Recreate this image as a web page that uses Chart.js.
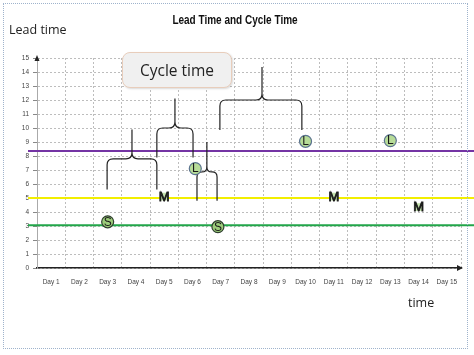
<!DOCTYPE html>
<html>
<head>
<meta charset="utf-8">
<script src="https://cdn.jsdelivr.net/npm/chart.js@4"></script>
<style>
  html, body { margin:0; padding:0; background:#fff; }
  #wrap { position:relative; width:474px; height:355px; overflow:hidden; }
  #c { position:absolute; left:0; top:0; }
  .frame { position:absolute; left:3px; top:3px; width:463px; height:344px; border:1px dotted #9fb3cc; pointer-events:none; }
  .txt { position:absolute; font-family:"Open Sans", "Liberation Sans", sans-serif; color:#222; white-space:nowrap; }
  #title { left:235px; top:13px; transform:translateX(-50%) scaleX(0.8); transform-origin:center; font-family:"Liberation Sans",sans-serif; font-weight:bold; font-size:12.5px; color:#111; }
  #ylab { left:9px; top:21px; font-size:12.5px; }
  #xlab { left:408px; top:294px; font-size:12.5px; }
  #box { position:absolute; left:122px; top:52px; width:108px; height:34px; background:#f0f0f0; border:1.5px solid #e8cdbb; border-radius:8px; box-shadow:1px 1px 2px rgba(0,0,0,0.15); font-family:"Open Sans","Liberation Sans",sans-serif; font-size:15.5px; color:#222; text-align:center; line-height:34px; }
</style>
</head>
<body>
<div id="wrap">
  <canvas id="c" width="474" height="355"></canvas>
  <div class="frame"></div>
  <div id="title" class="txt">Lead Time and Cycle Time</div>
  <div id="ylab" class="txt">Lead time</div>
  <div id="xlab" class="txt">time</div>
  <div id="box">Cycle time</div>
</div>
<script>
// ---- data ----
const days = ['Day 1','Day 2','Day 3','Day 4','Day 5','Day 6','Day 7','Day 8','Day 9','Day 10','Day 11','Day 12','Day 13','Day 14','Day 15'];
const yTicks = [0,1,2,3,4,5,6,7,8,9,10,11,12,13,14,15];

// S, M, L markers: position in days (Day n = n) and lead time value
const sDays   = [3, 6.9];
const sValues = [3.3, 2.95];
const mDays   = [5, 11, 14];
const mValues = [5.1, 5.1, 4.35];
const lDays   = [6.1, 10, 13];
const lValues = [7.1, 9.05, 9.1];

// horizontal reference levels
const levelValues = [8.35, 5, 3.05];
const levelColors = ['#7434a4', '#f2ee00', '#22a64a'];

// cycle time braces: [leftDay, rightDay, tipDay, bottom, shoulder, top]
const braceLeft     = [2.98, 4.74, 6.16, 6.97];
const braceRight    = [4.74, 6.02, 6.87, 9.87];
const braceTip      = [3.86, 5.38, 6.51, 8.46];
const braceBottom   = [5.6, 7.9, 4.8, 9.86];
const braceShoulder = [7.8, 10.0, 6.86, 12.0];
const braceTop      = [9.9, 12.1, 9.0, 14.36];

const toPts = (xs, ys) => xs.map((x, i) => ({ x: x, y: ys[i] }));

const decor = {
  id: 'decor',
  beforeDatasetsDraw(chart) {
    const ctx = chart.ctx, y = chart.scales.y;
    ctx.save();
    levelValues.forEach((v, i) => {
      const py = y.getPixelForValue(v);
      ctx.strokeStyle = levelColors[i];
      ctx.lineWidth = 2;
      ctx.beginPath();
      ctx.moveTo(28, py);
      ctx.lineTo(chart.width, py);
      ctx.stroke();
    });
    // braces
    const xs = chart.scales.xl;
    ctx.strokeStyle = '#222';
    ctx.lineWidth = 1.2;
    braceLeft.forEach((_, i) => {
      const L = xs.getPixelForValue(braceLeft[i]);
      const R = xs.getPixelForValue(braceRight[i]);
      const T = xs.getPixelForValue(braceTip[i]);
      const B = y.getPixelForValue(braceBottom[i]);
      const S = y.getPixelForValue(braceShoulder[i]);
      const P = y.getPixelForValue(braceTop[i]);
      const r = Math.min(6, (R - L) / 4);
      ctx.beginPath();
      ctx.moveTo(L, B);
      ctx.lineTo(L, S + r);
      ctx.quadraticCurveTo(L, S, L + r, S);
      ctx.lineTo(T - r, S);
      ctx.quadraticCurveTo(T, S, T, S - r);
      ctx.lineTo(T, P);
      ctx.moveTo(T, S - r);
      ctx.quadraticCurveTo(T, S, T + r, S);
      ctx.lineTo(R - r, S);
      ctx.quadraticCurveTo(R, S, R, S + r);
      ctx.lineTo(R, B);
      ctx.stroke();
    });
    ctx.restore();
  },
  afterDatasetsDraw(chart) {
    const ctx = chart.ctx;
    ctx.save();
    ctx.textAlign = 'center';
    ctx.textBaseline = 'middle';
    chart.data.datasets.forEach((ds, di) => {
      const meta = chart.getDatasetMeta(di);
      meta.data.forEach(el => {
        ctx.fillStyle = '#1a1a1a';
        ctx.font = ds.letter === 'M' ? '13px "Liberation Sans", sans-serif' : '12px "Liberation Sans", sans-serif';
        if (ds.letter === 'M') {
          ctx.lineWidth = 0.8;
          ctx.strokeStyle = '#1a1a1a';
          ctx.strokeText(ds.letter, el.x, el.y + 0.5);
        }
        ctx.fillText(ds.letter, el.x, el.y + 0.5);
      });
    });
    // axis arrows
    const a = chart.chartArea;
    ctx.fillStyle = '#222';
    ctx.beginPath();
    ctx.moveTo(a.right + 2, a.bottom);
    ctx.lineTo(a.right - 4, a.bottom - 3);
    ctx.lineTo(a.right - 4, a.bottom + 3);
    ctx.closePath();
    ctx.fill();
    ctx.beginPath();
    ctx.moveTo(a.left, a.top - 3);
    ctx.lineTo(a.left - 2.5, a.top + 3);
    ctx.lineTo(a.left + 2.5, a.top + 3);
    ctx.closePath();
    ctx.fill();
    ctx.restore();
  }
};

const tickFont = { family: '"Liberation Sans",sans-serif', size: 6.5 };

new Chart(document.getElementById('c'), {
  type: 'scatter',
  data: {
    datasets: [
      { letter: 'S', data: toPts(sDays, sValues), xAxisID: 'xl', yAxisID: 'y',
        pointRadius: 6, pointBackgroundColor: '#9ccc7a', pointBorderColor: '#2f3f2f', pointBorderWidth: 1.2 },
      { letter: 'M', data: toPts(mDays, mValues), xAxisID: 'xl', yAxisID: 'y',
        pointStyle: 'rect', pointRadius: 5.5, pointBackgroundColor: '#c5e3ae', pointBorderColor: 'rgba(0,0,0,0)', pointBorderWidth: 0 },
      { letter: 'L', data: toPts(lDays, lValues), xAxisID: 'xl', yAxisID: 'y',
        pointRadius: 6, pointBackgroundColor: '#b7dc98', pointBorderColor: '#5b7390', pointBorderWidth: 1.2 }
    ]
  },
  options: {
    responsive: false,
    animation: false,
    events: [],
    layout: { padding: { top: 58, right: 13, left: 0, bottom: 0 } },
    plugins: { legend: { display: false }, tooltip: { enabled: false }, title: { display: false } },
    scales: {
      x: {
        type: 'category', labels: days, offset: true, position: 'bottom',
        afterFit(s) { s.height = 87; },
        grid: { offset: true, color: '#bdbdbd', tickLength: 0, drawTicks: false },
        border: { display: true, color: '#222', width: 1.5, dash: [2, 2] },
        ticks: { padding: 10, color: '#444', font: tickFont, maxRotation: 0, autoSkip: false }
      },
      xl: { type: 'linear', min: 0.5, max: 15.5, display: false },
      y: {
        type: 'linear', min: 0, max: 15,
        afterFit(s) { s.width = 37; },
        afterBuildTicks(s) { s.ticks = yTicks.map(v => ({ value: v })); },
        grid: { color: '#bdbdbd', tickLength: 4, tickColor: '#888', tickWidth: 1 },
        border: { display: true, color: '#aaa', width: 1, dash: [2, 2] },
        ticks: { padding: 4, color: '#444', font: tickFont }
      }
    }
  },
  plugins: [decor]
});
</script>
</body>
</html>
